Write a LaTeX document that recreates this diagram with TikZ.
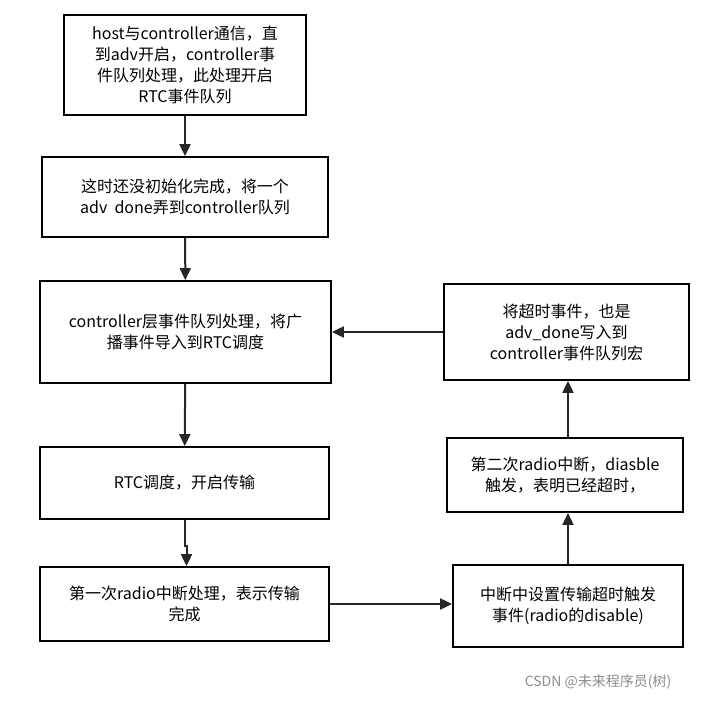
\documentclass[tikz,border=0pt]{standalone}
\usepackage{fontspec}
\setmainfont{Noto Sans CJK SC}
\usetikzlibrary{arrows.meta}
\begin{document}
\begin{tikzpicture}[x=1pt,y=-1pt,
  box/.style={draw=black,line width=1.8pt,align=center,font=\fontsize{16}{21}\selectfont,inner sep=0pt},
  arr/.style={draw=black!85,line width=2pt,-{Triangle[length=12pt,width=11pt]}}]
\useasboundingbox (0,0) rectangle (713,702);
\node[box,minimum width=242,minimum height=100] (b1) at (185,65) {host与controller通信，直\\到adv开启，controller事\\件队列处理，此处理开启\\RTC事件队列};
\node[box,minimum width=286,minimum height=80] (b2) at (185,197) {这时还没初始化完成，将一个\\adv\ \ done弄到controller队列};
\node[box,minimum width=291,minimum height=102] (b3) at (185.5,332) {controller层事件队列处理，将广\\播事件导入到RTC调度};
\node[box,minimum width=289,minimum height=72] (b4) at (184.5,483) {RTC调度，开启传输};
\node[box,minimum width=289,minimum height=74] (b5) at (184.5,604) {第一次radio中断处理，表示传输\\完成};
\node[box,minimum width=230,minimum height=82] (b6) at (568,606) {中断中设置传输超时触发\\事件(radio的disable)};
\node[box,minimum width=236,minimum height=74] (b7) at (565,475) {第二次radio中断，diasble\\触发，表明已经超时，};
\node[box,minimum width=245,minimum height=96] (b8) at (566.5,332) {将超时事件，也是\\adv\_done写入到\\controller事件队列宏};
\node[text=black!45,font=\fontsize{14}{16}\selectfont] (wm) at (598,682) {CSDN @未来程序员(树)};
\draw[arr] (b1) -- (b2);
\draw[arr] (b2) -- (b3);
\draw[arr] (b3) -- (b4);
\draw[arr] (b4.south) -- ++(0,26) -| ([xshift=2pt]b5.north);
\draw[arr] (b5.east) -- (b6.west |- b5.east);
\draw[arr] (b6.north) -- (b6.north |- b7.south);
\draw[arr] (b6.north |- b7.north) -- (b6.north |- b8.south);
\draw[arr] (b8.west) -- (b3.east);
\end{tikzpicture}
\end{document}
